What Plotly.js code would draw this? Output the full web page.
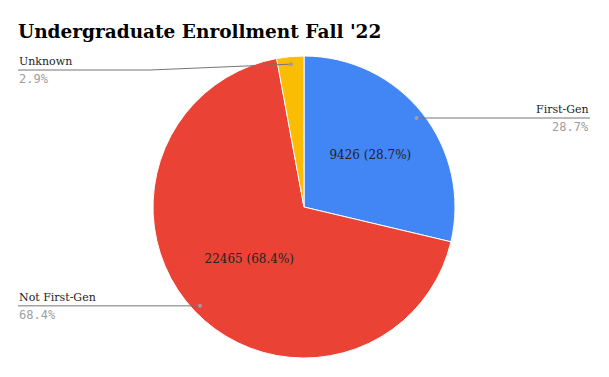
<!DOCTYPE html>
<html><head><meta charset="utf-8">
<script src="https://cdn.plot.ly/plotly-3.0.1.min.js"></script>
<style>html,body{margin:0;padding:0;background:#fff}</style>
</head><body><div id="chart" style="width:609px;height:377px"></div>
<script>
const categories = ["First-Gen", "Not First-Gen", "Unknown"];
const values = [9426, 22465, 952];
const colors = ["#4285F4", "#EA4335", "#FBBC04"];

const W = 609, H = 377;
const cx = 304, cy = 207, R = 151;
const total = values.reduce((a, b) => a + b, 0);
const pct = values.map(v => (100 * v / total).toFixed(1) + "%");

const px = x => x / W, py = y => 1 - y / H;

// leader line placements: side and label line y (pixels)
const side = ["right", "left", "left"];
const labelY = [null, null, 70];

const shapes = [], annotations = [];
let cum = 0;
values.forEach((v, i) => {
  const mid = (cum + v / 2) / total * 2 * Math.PI;
  cum += v;
  const dx = cx + 0.95 * R * Math.sin(mid);
  const dy = cy - 0.95 * R * Math.cos(mid);
  const ly = labelY[i] === null ? dy : labelY[i];
  const right = side[i] === "right";
  const endX = right ? 590 : 18;
  const elbowX = right ? dx : (labelY[i] === null ? dx : 150);
  const lineCol = "#757575";
  shapes.push({type: "line", xref: "paper", yref: "paper", x0: px(endX), y0: py(ly), x1: px(elbowX), y1: py(ly), line: {color: lineCol, width: 1}});
  if (elbowX !== dx || ly !== dy) {
    shapes.push({type: "line", xref: "paper", yref: "paper", x0: px(elbowX), y0: py(ly), x1: px(dx), y1: py(dy), line: {color: lineCol, width: 1}});
  }
  shapes.push({type: "circle", xref: "paper", yref: "paper", x0: px(dx - 2), x1: px(dx + 2), y0: py(dy + 2), y1: py(dy - 2), fillcolor: "#9e9e9e", line: {width: 0}});
  annotations.push({xref: "paper", yref: "paper", x: px(endX), y: py(ly - 1), xanchor: right ? "right" : "left", yanchor: "bottom",
    text: categories[i], showarrow: false, borderpad: 0, font: {family: "DejaVu Serif", size: 11, color: "#222222"}});
  annotations.push({xref: "paper", yref: "paper", x: px(endX), y: py(ly + 1), xanchor: right ? "right" : "left", yanchor: "top",
    text: pct[i], showarrow: false, borderpad: 0, font: {family: "DejaVu Sans Mono", size: 12, color: "#9e9e9e"}});
});

const data = [{
  type: "pie",
  labels: categories,
  values: values,
  sort: false,
  direction: "clockwise",
  rotation: 0,
  marker: {colors: colors, line: {color: "#ffffff", width: 1}},
  texttemplate: ["%{value:.0f} (%{percent:.1%})", "%{value:.0f} (%{percent:.1%})", ""],
  textposition: "inside",
  insidetextorientation: "horizontal",
  textfont: {family: "DejaVu Serif", size: 12, color: "#222222"},
  domain: {x: [px(cx - R), px(cx + R)], y: [py(cy + R), py(cy - R)]},
  showlegend: false,
  hoverinfo: "none"
}];

const layout = {
  width: W, height: H,
  margin: {l: 0, r: 0, t: 0, b: 0},
  paper_bgcolor: "#ffffff",
  title: {text: "<b>Undergraduate Enrollment Fall '22</b>", x: 18 / W, xanchor: "left", y: py(31.5), yanchor: "middle",
    font: {family: "DejaVu Serif", size: 18.5, color: "#000000"}},
  shapes: shapes,
  annotations: annotations
};

Plotly.newPlot("chart", data, layout, {staticPlot: true, displayModeBar: false});
</script></body></html>
